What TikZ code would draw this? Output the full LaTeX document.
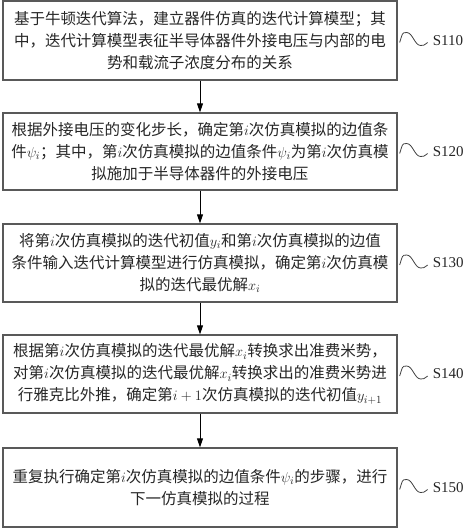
\documentclass[tikz,border=0pt]{standalone}
\usepackage{fontspec}
\setmainfont{Liberation Serif}
\newfontfamily\cjk{Noto Sans CJK SC}
\usetikzlibrary{arrows.meta}
\begin{document}
\begin{tikzpicture}[x=1pt,y=-1pt,
  stepbox/.style={draw=black!65,line width=1.3pt,minimum width=394pt,inner sep=0pt,
    align=center,text=black!85,font=\cjk\fontsize{15.5}{22}\selectfont},
  flow/.style={draw=black,line width=0.9pt,-{Triangle[length=9pt,width=6pt]}},
  wave/.style={draw=black!75,line width=0.8pt},
  steplabel/.style={font=\fontsize{15}{18}\selectfont,text=black!85,inner sep=0pt}]
\useasboundingbox (0,0) rectangle (474,528);
\node[stepbox,minimum height=79pt] (b1) at (200,40.5) {基于牛顿迭代算法，建立器件仿真的迭代计算模型；其\\中，迭代计算模型表征半导体器件外接电压与内部的电\\势和载流子浓度分布的关系};
\node[stepbox,minimum height=77pt] (b2) at (200,151.5) {根据外接电压的变化步长，确定第$i$次仿真模拟的边值条\\件$\psi_i$；其中，第$i$次仿真模拟的边值条件$\psi_i$为第$i$次仿真模\\拟施加于半导体器件的外接电压};
\node[stepbox,minimum height=78pt] (b3) at (200,263) {将第$i$次仿真模拟的迭代初值$y_i$和第$i$次仿真模拟的边值\\条件输入迭代计算模型进行仿真模拟，确定第$i$次仿真模\\拟的迭代最优解$x_i$};
\node[stepbox,minimum height=78pt] (b4) at (200,374) {根据第$i$次仿真模拟的迭代最优解$x_i$转换求出准费米势，\\对第$i$次仿真模拟的迭代最优解$x_i$转换求出的准费米势进\\行雅克比外推，确定第$i+1$次仿真模拟的迭代初值$y_{i+1}$};
\node[stepbox,minimum height=79pt] (b5) at (200,487.5) {重复执行确定第$i$次仿真模拟的边值条件$\psi_i$的步骤，进行\\下一仿真模拟的过程};
\draw[flow] (b1.south) -- (b2.north);
\draw[flow] (b2.south) -- (b3.north);
\draw[flow] (b3.south) -- (b4.north);
\draw[flow] (b4.south) -- (b5.north);
\foreach \n/\l in {b1/S110,b2/S120,b3/S130,b4/S140,b5/S150}{
  \coordinate (w\n) at ([xshift=2pt]\n.east);
  \draw[wave] (w\n) ++(0,2) .. controls ++(3,-9) and ++(-5,0) .. ++(7,-10)
     .. controls ++(6,0) and ++(-6,0) .. ++(14,13) .. controls ++(3,0) .. ++(7,-3);
  \node[steplabel,anchor=west] (l\n) at ([xshift=35pt]\n.east) {\l};
}
\end{tikzpicture}
\end{document}
